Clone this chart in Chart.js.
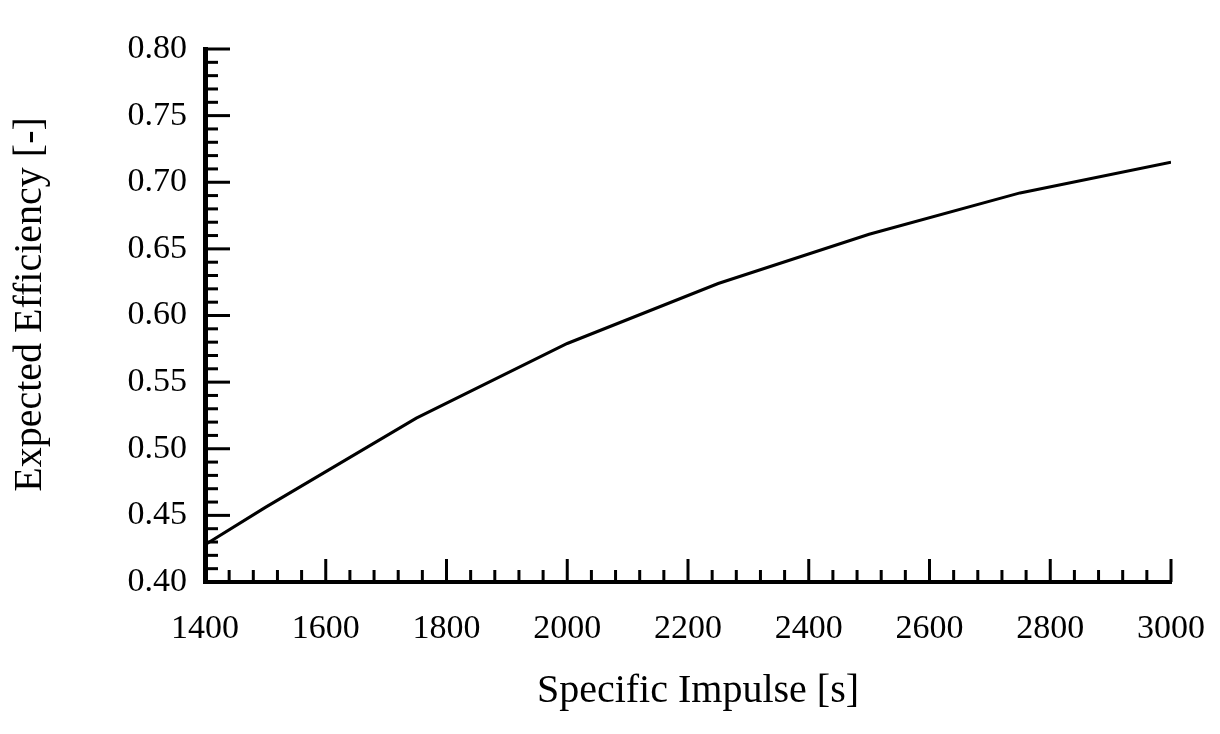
<!DOCTYPE html>
<html>
<head>
<meta charset="utf-8">
<script src="https://cdn.jsdelivr.net/npm/chart.js@4/dist/chart.umd.min.js"></script>
<style>
  html, body { margin: 0; padding: 0; background: #fff; }
  #wrap { width: 1220px; height: 734px; }
</style>
</head>
<body>
<div id="wrap"><canvas id="c" width="1220" height="734"></canvas></div>
<script>
// ---- data ----
const specificImpulse = [1400, 1500, 1750, 2000, 2250, 2500, 2750, 3000];
const expectedEfficiency = [0.428, 0.456, 0.523, 0.579, 0.624, 0.661, 0.692, 0.715];
const xTickValues = [1400, 1600, 1800, 2000, 2200, 2400, 2600, 2800, 3000];
const yTickLabels = ['0.40', '0.45', '0.50', '0.55', '0.60', '0.65', '0.70', '0.75', '0.80'];
const xTitle = 'Specific Impulse [s]';
const yTitle = 'Expected Efficiency [-]';

const FONT = "'Liberation Serif', 'Times New Roman', serif";

// inward major/minor tick marks drawn via the scales
const inwardTicks = {
  id: 'inwardTicks',
  afterDraw(chart) {
    const ctx = chart.ctx;
    const xs = chart.scales.x, ys = chart.scales.y;
    const area = chart.chartArea;
    ctx.save();
    ctx.strokeStyle = '#000';
    ctx.lineWidth = 3;
    ctx.lineCap = 'butt';
    for (let v = xs.min; v <= xs.max + 1e-6; v += 40) {
      const px = xs.getPixelForValue(v);
      const major = Math.abs((v - xs.min) % 200) < 1e-6;
      const len = major ? 23 : 12;
      ctx.beginPath();
      ctx.moveTo(px, area.bottom);
      ctx.lineTo(px, area.bottom - len);
      ctx.stroke();
    }
    for (let i = 0; i <= 40; i++) {
      const v = ys.min + i * 0.01;
      const py = ys.getPixelForValue(v);
      const major = i % 5 === 0;
      const len = major ? 25 : 13;
      ctx.beginPath();
      ctx.moveTo(area.left, py);
      ctx.lineTo(area.left + len, py);
      ctx.stroke();
    }
    ctx.restore();
  }
};

// small offset of an axis title relative to its default centred spot
function shiftTitle(scale, dx, dy) {
  if (scale._titleShifted) return;
  scale._titleShifted = true;
  const orig = scale.drawTitle;
  scale.drawTitle = function () {
    const ctx = this.ctx;
    ctx.save();
    ctx.translate(dx, dy);
    orig.call(this);
    ctx.restore();
  };
}

new Chart(document.getElementById('c'), {
  type: 'line',
  data: {
    datasets: [{
      data: specificImpulse.map((x, i) => ({ x: x, y: expectedEfficiency[i] })),
      borderColor: '#000',
      borderWidth: 3,
      pointRadius: 0,
      tension: 0,
      fill: false
    }]
  },
  options: {
    responsive: false,
    animation: false,
    layout: { padding: { top: 49, right: 49, bottom: 0, left: 0 } },
    plugins: { legend: { display: false }, tooltip: { enabled: false } },
    scales: {
      x: {
        type: 'linear',
        min: 1400,
        max: 3000,
        afterBuildTicks(scale) { scale.ticks = xTickValues.map(v => ({ value: v })); },
        afterFit(scale) { scale.height = 734 - 582; scale.paddingLeft = 0; scale.paddingRight = 0; shiftTitle(scale, 10, 0); },
        grid: { display: false, drawTicks: false },
        border: { display: true, color: '#000', width: 4 },
        ticks: {
          color: '#000',
          padding: 27,
          maxRotation: 0,
          autoSkip: false,
          font: { family: FONT, size: 34 },
          callback: (v) => String(v)
        },
        title: {
          display: true,
          text: xTitle,
          color: '#000',
          font: { family: FONT, size: 40 },
          padding: { top: 0, bottom: 19 }
        }
      },
      y: {
        type: 'linear',
        min: 0.4,
        max: 0.8,
        afterBuildTicks(scale) { scale.ticks = yTickLabels.map(s => ({ value: parseFloat(s) })); },
        afterFit(scale) { scale.width = 205; scale.paddingTop = 0; scale.paddingBottom = 0; shiftTitle(scale, 0, -11); },
        grid: { display: false, drawTicks: false },
        border: { display: true, color: '#000', width: 5 },
        ticks: {
          color: '#000',
          padding: 18,
          autoSkip: false,
          font: { family: FONT, size: 34 },
          callback: (v) => { const i = yTickLabels.findIndex(s => Math.abs(parseFloat(s) - v) < 1e-9); return i >= 0 ? yTickLabels[i] : ''; }
        },
        title: {
          display: true,
          text: yTitle,
          color: '#000',
          font: { family: FONT, size: 40 },
          padding: { top: 6, bottom: 0 }
        }
      }
    }
  },
  plugins: [inwardTicks]
});
</script>
</body>
</html>
